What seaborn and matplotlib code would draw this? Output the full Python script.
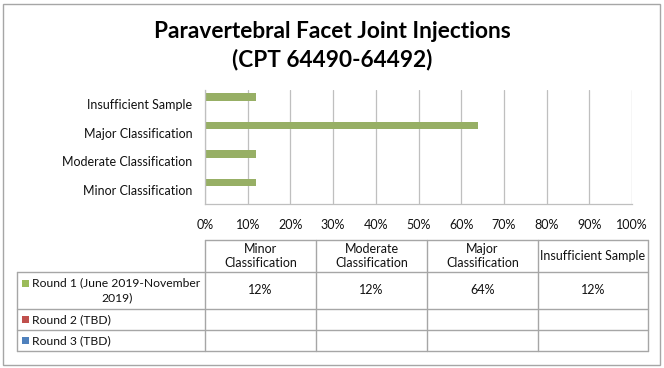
import pandas as pd
import numpy as np
import matplotlib
matplotlib.use("Agg")
import matplotlib.pyplot as plt
from matplotlib.patches import Rectangle
import seaborn as sns

# Data
categories = ["Minor Classification", "Moderate Classification",
              "Major Classification", "Insufficient Sample"]
table_headers = ["Minor\nClassification", "Moderate\nClassification",
                 "Major\nClassification", "Insufficient Sample"]
series = ["Round 1 (June 2019-November 2019)", "Round 2 (TBD)", "Round 3 (TBD)"]
round1 = [12, 12, 64, 12]
round2 = [np.nan] * 4   # TBD
round3 = [np.nan] * 4   # TBD
colors = ["#9BBB59", "#C0504D", "#4F81BD"]
x_ticks = list(range(0, 101, 10))

sns.set_style("white")
plt.rcParams["font.family"] = ["Lato", "DejaVu Sans"]

rows = []
for name, vals in zip(series, [round1, round2, round3]):
    for cat, v in zip(categories, vals):
        rows.append({"Category": cat, "Series": name, "Value": v})
df = pd.DataFrame(rows)

W, H = 664, 368
fig = plt.figure(figsize=(W / 100, H / 100), dpi=100)
txt_c = "#111111"

# background axes in pixel coords for the frame, title and table
bg = fig.add_axes([0, 0, 1, 1])
bg.set_xlim(0, W)
bg.set_ylim(H, 0)
bg.axis("off")
line_c = "#A6A6A6"
bg.add_patch(Rectangle((3, 4), 657, 361, fill=False, ec=line_c, lw=1))

bg.text(332, 31, "Paravertebral Facet Joint Injections", ha="center", va="center",
        fontsize=16.3, fontweight="bold", color="black")
bg.text(332, 60, "(CPT 64490-64492)", ha="center", va="center",
        fontsize=16.3, fontweight="bold", color="black")

# bar chart
left, right, top, bottom = 205, 632, 90, 204
ax = fig.add_axes([left / W, 1 - bottom / H, (right - left) / W, (bottom - top) / H])
order = categories[::-1]
sns.barplot(data=df, x="Value", y="Category", hue="Series", order=order,
            hue_order=series, palette=colors, orient="h", width=0.77,
            ax=ax, legend=False, linewidth=0, errorbar=None)
ax.set_xlim(0, 100)
ax.set_xticks(x_ticks)
ax.set_xticklabels([f"{t}%" for t in x_ticks], fontsize=9, color=txt_c)
ax.tick_params(axis="y", labelsize=9, labelcolor=txt_c, length=0, pad=9)
ax.tick_params(axis="x", length=0, pad=11)
ax.grid(axis="x", color="#BFBFBF", lw=0.9)
ax.set_axisbelow(True)
ax.set_xlabel("")
ax.set_ylabel("")
for s in ["top", "right"]:
    ax.spines[s].set_visible(False)
for s in ["left", "bottom"]:
    ax.spines[s].set_color("#BFBFBF")
    ax.spines[s].set_linewidth(0.9)

# data table
col_x = [205, 316, 427, 538, 648]
row_y = [240, 272, 309, 330, 351]
tab_left = 17
bg.plot([col_x[0], col_x[-1]], [row_y[0], row_y[0]], color=line_c, lw=1)
for y in row_y[1:]:
    bg.plot([tab_left, col_x[-1]], [y, y], color=line_c, lw=1)
for x in col_x:
    bg.plot([x, x], [row_y[0], row_y[-1]], color=line_c, lw=1)
bg.plot([tab_left, tab_left], [row_y[1], row_y[-1]], color=line_c, lw=1)

for i, hdr in enumerate(table_headers):
    cx = (col_x[i] + col_x[i + 1]) / 2
    bg.text(cx, (row_y[0] + row_y[1]) / 2, hdr, ha="center", va="center",
            fontsize=9, linespacing=1.15, color=txt_c)

for r, (name, vals, c) in enumerate(zip(series, [round1, round2, round3], colors)):
    y0, y1 = row_y[r + 1], row_y[r + 2]
    if r == 0:
        ym = y0 + 11
        bg.add_patch(Rectangle((22, ym - 3.5), 7, 7, color=c, lw=0))
        bg.text(32, ym, "Round 1 (June 2019-November", ha="left", va="center",
                fontsize=8.7, color=txt_c)
        bg.text(117, ym + 15, "2019)", ha="center", va="center",
                fontsize=8.7, color=txt_c)
    else:
        ym = (y0 + y1) / 2
        bg.add_patch(Rectangle((22, ym - 3.5), 7, 7, color=c, lw=0))
        bg.text(32, ym, name, ha="left", va="center", fontsize=8.7, color=txt_c)
    for i, v in enumerate(vals):
        if not np.isnan(v):
            cx = (col_x[i] + col_x[i + 1]) / 2
            bg.text(cx, (y0 + y1) / 2, f"{v:.0f}%", ha="center", va="center",
                    fontsize=9, color=txt_c)

fig.savefig("out.png", dpi=100)
